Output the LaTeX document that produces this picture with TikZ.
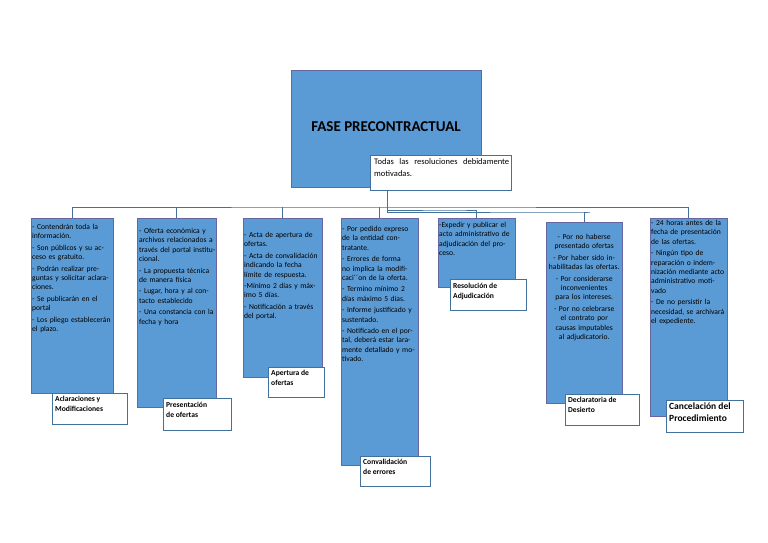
\documentclass[tikz,border=0pt]{standalone}
\usepackage{fontspec}
\setmainfont{Carlito}
\begin{document}
\begin{tikzpicture}[x=1pt,y=-1pt,
  blue/.style={draw=blue!40!black!60,fill=bfill,line width=0.6pt},
  lab/.style={draw=bline,fill=white,line width=0.6pt},
  txt/.style={anchor=north west,font=\fontsize{7.6}{9.4}\selectfont,align=left,inner sep=0pt,text width=#1},
  ctxt/.style={anchor=north west,font=\fontsize{7.6}{9.4}\selectfont,align=center,inner sep=0pt,text width=#1},
  ltxt/.style={anchor=north west,font=\bfseries\fontsize{7.6}{10}\selectfont,align=left,inner sep=0pt},
  con/.style={draw=bline,line width=0.7pt}]
\definecolor{bfill}{HTML}{5B9BD5}
\definecolor{bline}{HTML}{41719C}
\useasboundingbox (0,0) rectangle (768,543);
% main
\node[blue,minimum width=190,minimum height=117,anchor=north west,inner sep=0] (main) at (291,70) {};
\node[font=\bfseries\fontsize{15}{17}\selectfont] (title) at (386,127) {FASE PRECONTRACTUAL};
\node[lab,minimum width=141,minimum height=35,anchor=north west,inner sep=0] (note) at (370,155) {};
\node[anchor=north west,inner sep=0pt,text width=135,align=justify,font=\fontsize{8.5}{12}\selectfont] at (374,158) {Todas las resoluciones debidamente motivadas.};
\coordinate (hub) at (387,190);
% boxes
\node[blue,minimum width=82,minimum height=175,anchor=north west,inner sep=0] (b1) at (31,218) {};
\node[blue,minimum width=79,minimum height=189,anchor=north west,inner sep=0] (b2) at (137,218) {};
\node[blue,minimum width=79,minimum height=159,anchor=north west,inner sep=0] (b3) at (243,218) {};
\node[blue,minimum width=77,minimum height=247,anchor=north west,inner sep=0] (b4) at (341,218) {};
\node[blue,minimum width=77,minimum height=69,anchor=north west,inner sep=0] (b5) at (438,218) {};
\node[blue,minimum width=76,minimum height=181,anchor=north west,inner sep=0] (b6) at (546,222) {};
\node[blue,minimum width=77,minimum height=198,anchor=north west,inner sep=0] (b7) at (650,218) {};
% connectors
\coordinate (j) at (387,207);
\draw[con] (hub) -- (j);
\draw[con] (b1.north) |- (j) -| (b7.north);
\draw[con] (b2.north) -- ++(0,-11);
\draw[con] (b3.north) -- ++(0,-11);
\draw[con] (b4.north) -- ++(0,-11);
\draw[con] (387,207) |- (457,210) -| (b5.north);
\draw[con] (387,210) |- (590,212) -| (b6.north);
% texts
\node[txt=80] (t1) at (32,224) {- Contendrán toda la información.\\[2pt]- Son públicos y su acceso es gratuito.\\[2pt]- Podrán realizar preguntas y solicitar aclaraciones.\\[2pt]- Se publicarán en el portal\\[2pt]- Los pliego establecerán el plazo.};
\node[txt=76] (t2) at (139,228) {- Oferta económica y archivos relacionados a través del portal institucional.\\[2pt]- La propuesta técnica de manera física\\[2pt]- Lugar, hora y al contacto establecido\\[2pt]- Una constancia con la fecha y hora};
\node[txt=77] (t3) at (244,232) {- Acta de apertura de ofertas.\\[2pt]- Acta de convalidación indicando la fecha límite de respuesta.\\[2pt]-Mínimo 2 días y máximo 5 días.\\[2pt]- Notificación a través del portal.};
\node[txt=75] (t4) at (342,226) {- Por pedido expreso de la entidad contratante.\\[2pt]- Errores de forma no implica la modificaci´´on de la oferta.\\[2pt]- Termino mínimo 2 días máximo 5 días.\\[2pt]- Informe justificado y sustentado.\\[2pt]- Notificado en el portal, deberá estar laramente detallado y motivado.};
\node[txt=76] (t5) at (439,222) {-Expedir y publicar el acto administrativo de adjudicación del proceso.};
\node[ctxt=76] (t6) at (546,234) {- Por no haberse presentado ofertas\\[2pt]- Por haber sido inhabilitadas las ofertas.\\[2pt]- Por considerarse inconvenientes para los intereses.\\[2pt]- Por no celebrarse el contrato por causas imputables al adjudicatorio.};
\node[txt=76] (t7) at (651,220) {- 24 horas antes de la fecha de presentación de las ofertas.\\[2pt]- Ningún tipo de reparación o indemnización mediante acto administrativo motivado\\[2pt]- De no persistir la necesidad, se archivará el expediente.};
% labels
\node[lab,minimum width=75,minimum height=31,anchor=north west,inner sep=0] (l1) at (52,393) {};
\node[ltxt] at (55,396) {Aclaraciones y\\Modificaciones};
\node[lab,minimum width=68,minimum height=32,anchor=north west,inner sep=0] (l2) at (163,398) {};
\node[ltxt] at (166,402) {Presentación\\de ofertas};
\node[lab,minimum width=56,minimum height=30,anchor=north west,inner sep=0] (l3) at (268,367) {};
\node[ltxt] at (271,370) {Apertura de\\ofertas};
\node[lab,minimum width=70,minimum height=30,anchor=north west,inner sep=0] (l4) at (360,456) {};
\node[ltxt] at (363,459) {Convalidación\\de errores};
\node[lab,minimum width=76,minimum height=31,anchor=north west,inner sep=0] (l5) at (450,279) {};
\node[ltxt] at (453,283) {Resolución de\\Adjudicación};
\node[lab,minimum width=74,minimum height=31,anchor=north west,inner sep=0] (l6) at (565,394) {};
\node[ltxt] at (568,397) {Declaratoria de\\Desierto};
\node[lab,minimum width=77,minimum height=32,anchor=north west,inner sep=0] (l7) at (666,400) {};
\node[ltxt,font=\bfseries\fontsize{9.5}{12}\selectfont] at (669,403) {Cancelación del\\Procedimiento};
\end{tikzpicture}
\end{document}
